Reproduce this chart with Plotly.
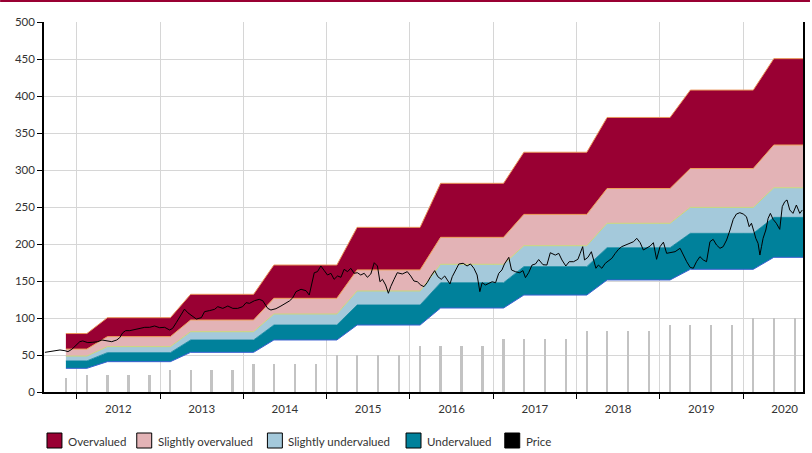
import plotly.graph_objects as go

# ---------------- data ----------------
quarter_dates = ["2011-11-15", "2012-02-15", "2012-05-15", "2012-08-15", "2012-11-15",
                 "2013-02-15", "2013-05-15", "2013-08-15", "2013-11-15",
                 "2014-02-15", "2014-05-15", "2014-08-15", "2014-11-15",
                 "2015-02-15", "2015-05-15", "2015-08-15", "2015-11-15",
                 "2016-02-15", "2016-05-15", "2016-08-15", "2016-11-15",
                 "2017-02-15", "2017-05-15", "2017-08-15", "2017-11-15",
                 "2018-02-15", "2018-05-15", "2018-08-15", "2018-11-15",
                 "2019-02-15", "2019-05-15", "2019-08-15", "2019-11-15",
                 "2020-02-15", "2020-05-15", "2020-08-15"]
band_dates = quarter_dates + ["2020-09-20"]

bar_values = [18.5,
              23, 23, 23, 23,
              29.7, 29.7, 29.7, 29.7,
              37.8, 37.8, 37.8, 37.8,
              50, 50, 50, 50,
              62, 62, 62, 62,
              71.2, 71.2, 71.2, 71.2,
              82.4, 82.4, 82.4, 82.4,
              90.5, 90.5, 90.5, 90.5,
              100, 100, 100]

band_bottom = [32, 32,
               41, 41, 41, 41,
               53.6, 53.6, 53.6, 53.6,
               70.3, 70.3, 70.3, 70.3,
               90.5, 90.5, 90.5, 90.5,
               113.5, 113.5, 113.5, 113.5,
               131, 131, 131, 131,
               151.4, 151.4, 151.4, 151.4,
               165.8, 165.8, 165.8, 165.8,
               182, 182, 182]
band_undervalued_top = [42, 42,
                        53.2, 53.2, 53.2, 53.2,
                        70.3, 70.3, 70.3, 70.3,
                        90.5, 90.5, 90.5, 90.5,
                        117.6, 117.6, 117.6, 117.6,
                        147.7, 147.7, 147.7, 147.7,
                        169.4, 169.4, 169.4, 169.4,
                        195, 195, 195, 195,
                        214.4, 214.4, 214.4, 214.4,
                        236, 236, 236]
band_slightly_under_top = [48.6, 48.6,
                           61.3, 61.3, 61.3, 61.3,
                           81.5, 81.5, 81.5, 81.5,
                           105.4, 105.4, 105.4, 105.4,
                           136.5, 136.5, 136.5, 136.5,
                           172.6, 172.6, 172.6, 172.6,
                           197.7, 197.7, 197.7, 197.7,
                           228, 228, 228, 228,
                           249.5, 249.5, 249.5, 249.5,
                           276, 276, 276]
band_slightly_over_top = [58, 58,
                          74.8, 74.8, 74.8, 74.8,
                          97.3, 97.3, 97.3, 97.3,
                          126.6, 126.6, 126.6, 126.6,
                          165, 165, 165, 165,
                          209, 209, 209, 209,
                          240, 240, 240, 240,
                          275, 275, 275, 275,
                          302, 302, 302, 302,
                          333.8, 333.8, 333.8]
band_overvalued_top = [79, 79,
                       100.4, 100.4, 100.4, 100.4,
                       132, 132, 132, 132,
                       171.6, 171.6, 171.6, 171.6,
                       222.5, 222.5, 222.5, 222.5,
                       282, 282, 282, 282,
                       324, 324, 324, 324,
                       371, 371, 371, 371,
                       408, 408, 408, 408,
                       450.5, 450.5, 450.5]

price_dates = [
    "2011-08-15", "2011-09-21", "2011-10-20", "2011-11-11", "2011-11-24", "2011-12-11", "2012-01-02", "2012-01-15", "2012-01-28", "2012-02-19",
    "2012-03-12", "2012-04-03", "2012-04-21", "2012-05-04", "2012-05-17", "2012-06-03", "2012-06-25", "2012-07-08", "2012-07-21", "2012-08-03",
    "2012-08-21", "2012-09-12", "2012-10-04", "2012-10-26", "2012-11-16", "2012-12-08", "2012-12-30", "2013-01-21", "2013-02-12", "2013-02-25",
    "2013-03-13", "2013-04-04", "2013-04-18", "2013-05-03", "2013-05-25", "2013-06-09", "2013-07-01", "2013-07-15", "2013-08-06", "2013-08-28",
    "2013-09-11", "2013-10-03", "2013-10-25", "2013-11-16", "2013-12-07", "2013-12-29", "2014-01-13", "2014-01-28", "2014-02-19", "2014-03-12",
    "2014-03-27", "2014-04-03", "2014-04-18", "2014-05-02", "2014-05-24", "2014-06-15", "2014-07-07", "2014-07-22", "2014-08-05", "2014-08-20",
    "2014-09-11", "2014-10-03", "2014-10-17", "2014-10-29", "2014-11-08", "2014-11-22", "2014-12-07", "2014-12-22", "2015-01-05", "2015-01-20",
    "2015-02-03", "2015-02-18", "2015-03-05", "2015-03-19", "2015-04-03", "2015-04-17", "2015-05-02", "2015-05-16", "2015-05-31", "2015-06-15",
    "2015-06-29", "2015-07-14", "2015-07-29", "2015-08-12", "2015-08-23", "2015-09-03", "2015-09-17", "2015-09-29", "2015-10-09", "2015-10-24",
    "2015-11-07", "2015-11-29", "2015-12-21", "2016-01-05", "2016-01-19", "2016-02-03", "2016-02-18", "2016-03-03", "2016-03-17", "2016-04-01",
    "2016-04-19", "2016-05-03", "2016-05-18", "2016-06-02", "2016-06-13", "2016-06-25", "2016-07-05", "2016-07-20", "2016-08-03", "2016-08-22",
    "2016-09-08", "2016-09-23", "2016-10-08", "2016-10-22", "2016-11-03", "2016-11-13", "2016-11-28", "2016-12-13", "2016-12-27", "2017-01-11",
    "2017-01-25", "2017-02-08", "2017-02-19", "2017-03-10", "2017-03-22", "2017-04-08", "2017-04-27", "2017-05-11", "2017-05-22", "2017-06-05",
    "2017-06-20", "2017-07-05", "2017-07-19", "2017-08-07", "2017-08-24", "2017-09-08", "2017-09-30", "2017-10-15", "2017-10-29", "2017-11-15",
    "2017-11-30", "2017-12-19", "2018-01-07", "2018-01-17", "2018-01-28", "2018-02-05", "2018-02-20", "2018-03-07", "2018-03-17", "2018-03-27",
    "2018-04-07", "2018-04-22", "2018-05-07", "2018-05-21", "2018-06-05", "2018-06-20", "2018-07-04", "2018-07-18", "2018-08-05", "2018-08-24",
    "2018-09-08", "2018-09-22", "2018-10-07", "2018-10-21", "2018-11-05", "2018-11-20", "2018-12-04", "2018-12-18", "2019-01-02", "2019-01-17",
    "2019-01-31", "2019-02-15", "2019-03-09", "2019-03-31", "2019-04-14", "2019-04-29", "2019-05-14", "2019-05-28", "2019-06-11", "2019-06-26",
    "2019-07-11", "2019-07-25", "2019-08-09", "2019-08-23", "2019-09-07", "2019-09-22", "2019-10-06", "2019-10-21", "2019-11-05", "2019-11-19",
    "2019-12-03", "2019-12-18", "2020-01-02", "2020-01-16", "2020-01-28", "2020-02-07", "2020-02-18", "2020-02-26", "2020-03-07", "2020-03-15",
    "2020-03-22", "2020-03-29", "2020-04-10", "2020-04-20", "2020-04-30", "2020-05-12", "2020-05-26", "2020-06-10", "2020-06-21", "2020-07-02",
    "2020-07-12", "2020-07-24", "2020-08-07", "2020-08-22", "2020-09-06", "2020-09-17"]
price_values = [
    53.6, 55.4, 56.8, 55.8, 54.5, 57.7, 64, 68, 69, 66.7,
    67.2, 68, 70.3, 69.4, 69, 68, 70.3, 73.4, 80, 82.9,
    82.9, 84.7, 86, 87.4, 87.4, 89.2, 86.9, 87.4, 83.8, 86,
    93.7, 104, 112, 107, 101.8, 98.6, 100.5, 108.6, 110, 111.7,
    115.3, 113, 116.2, 113, 113, 115.3, 120.7, 119.8, 123.4, 125.2,
    123.4, 119.8, 113, 110.8, 112.6, 116.2, 119.8, 123, 127, 135.6,
    138.8, 136.9, 131, 147.7, 161.2, 162.6, 170.3, 164, 158.1, 160.4,
    152.3, 156.8, 155, 165.8, 162.6, 167.2, 160.4, 161.2, 158.1, 160.4,
    155, 159.5, 174.7, 170.3, 149, 152.3, 144.6, 133.4, 142.3, 152.3,
    161.2, 159.5, 162.6, 156.8, 150, 149, 144.6, 142.3, 147.7, 155.8,
    164, 155.8, 152.3, 156.8, 151.4, 146, 155.8, 164.9, 173, 173.9,
    170.3, 173, 167.2, 158.1, 135.6, 147.7, 144.6, 146.9, 149, 147.7,
    160.4, 164.9, 173, 182, 164.9, 162.6, 161.2, 164, 154.5, 161.2,
    171.6, 173, 179, 172, 171.6, 188.2, 185, 187.4, 178.4, 170.3,
    176.1, 176.1, 179.3, 187.4, 196.4, 178.4, 182, 189.6, 178.4, 167.2,
    171.6, 167.2, 173.9, 177.5, 180.7, 187.4, 192.8, 196.4, 198.6, 200.9,
    203.1, 207.7, 201.8, 191.9, 194.2, 197.3, 201.8, 179.3, 196.4, 202.5,
    187.4, 188.2, 189.6, 194.2, 185.1, 176.1, 168.5, 167.2, 176.1, 182.9,
    178.4, 176.1, 203.1, 206.3, 198.6, 194.2, 196.4, 205.4, 218.9, 233.3,
    240.5, 242.3, 240.5, 236.9, 223.4, 228, 216.6, 207.7, 200.9, 185.1,
    196.4, 207.7, 218.9, 234.7, 241.4, 233.3, 228, 219.8, 250.5, 257.2,
    259.5, 246, 241.4, 252.7, 241.4, 246]

legend_labels = ["Overvalued", "Slightly overvalued", "Slightly undervalued", "Undervalued", "Price"]

# ---------------- style ----------------
C_OVER = "#990033"
C_SOVER = "#e3b3b6"
C_SUNDER = "#a4c9db"
C_UNDER = "#00819b"
C_PRICE = "#000000"
legend_colors = [C_OVER, C_SOVER, C_SUNDER, C_UNDER, C_PRICE]
FONT = "Lato"

W, H = 812, 453
ML, MR, MT, MB = 44, 7, 22, 61
PW, PH = W - ML - MR, H - MT - MB


def px_x(px):
    return (px - ML) / PW


def px_y(py):
    return (H - MB - py) / PH


fig = go.Figure()

fig.add_trace(go.Bar(x=quarter_dates, y=bar_values, marker=dict(color="#c3c3c3", line=dict(width=0)),
                     width=8.6e8, showlegend=False, hoverinfo="skip"))

fig.add_trace(go.Scatter(x=band_dates, y=band_bottom, mode="lines",
                         line=dict(color="#3a5fd0", width=1), showlegend=False))
fig.add_trace(go.Scatter(x=band_dates, y=band_undervalued_top, mode="lines", fill="tonexty",
                         fillcolor=C_UNDER, line=dict(color=C_UNDER, width=0.8), showlegend=False))
fig.add_trace(go.Scatter(x=band_dates, y=band_slightly_under_top, mode="lines", fill="tonexty",
                         fillcolor=C_SUNDER, line=dict(color="#c9d77a", width=1), showlegend=False))
fig.add_trace(go.Scatter(x=band_dates, y=band_slightly_over_top, mode="lines", fill="tonexty",
                         fillcolor=C_SOVER, line=dict(color="#eea05a", width=1), showlegend=False))
fig.add_trace(go.Scatter(x=band_dates, y=band_overvalued_top, mode="lines", fill="tonexty",
                         fillcolor=C_OVER, line=dict(color="#e9955a", width=1), showlegend=False))

fig.add_trace(go.Scatter(x=price_dates, y=price_values, mode="lines",
                         line=dict(color=C_PRICE, width=1), showlegend=False))

shapes = []
annotations = []
# top decorative line
shapes.append(dict(type="rect", xref="paper", yref="paper", x0=px_x(0), x1=px_x(W), y0=px_y(2), y1=px_y(0),
                   fillcolor="#990033", line=dict(width=0), layer="above"))

swatch_left = [47, 137, 268, 407, 506]
for lab, col, sx in zip(legend_labels, legend_colors, swatch_left):
    shapes.append(dict(type="rect", xref="paper", yref="paper",
                       x0=px_x(sx), x1=px_x(sx + 15), y0=px_y(448), y1=px_y(433),
                       fillcolor=col, line=dict(color="#000000", width=1)))
    annotations.append(dict(text=lab, xref="paper", yref="paper", x=px_x(sx + 19), y=px_y(441),
                            xanchor="left", yanchor="middle", showarrow=False,
                            font=dict(family=FONT, size=11.5, color="#333333")))

fig.update_layout(
    width=W, height=H,
    margin=dict(l=ML, r=MR, t=MT, b=MB),
    plot_bgcolor="white", paper_bgcolor="white",
    showlegend=False, bargap=0,
    shapes=shapes, annotations=annotations,
    font=dict(family=FONT, size=11.5, color="#333333"),
    xaxis=dict(type="date", range=["2011-08-11", "2020-09-20"], dtick="M12", tick0="2012-01-01",
               ticklabelmode="period", tickformat="%Y", showgrid=True, gridcolor="#d6d6d6", gridwidth=1,
               ticks="outside", ticklen=5, tickcolor="#000000", showline=True, linecolor="#000000",
               linewidth=1.5, zeroline=False, tickfont=dict(family=FONT, size=11.5, color="#333333")),
    yaxis=dict(range=[0, 500], dtick=50, showgrid=True, gridcolor="#d6d6d6", gridwidth=1,
               ticks="outside", ticklen=5, tickcolor="#000000", showline=True, linecolor="#000000",
               linewidth=1.5, mirror=True, zeroline=False,
               tickfont=dict(family=FONT, size=11.5, color="#333333")),
)

fig.write_html("out.html", config={"displayModeBar": False},
               post_script="document.body.style.margin='0px';document.body.style.overflow='hidden';")
